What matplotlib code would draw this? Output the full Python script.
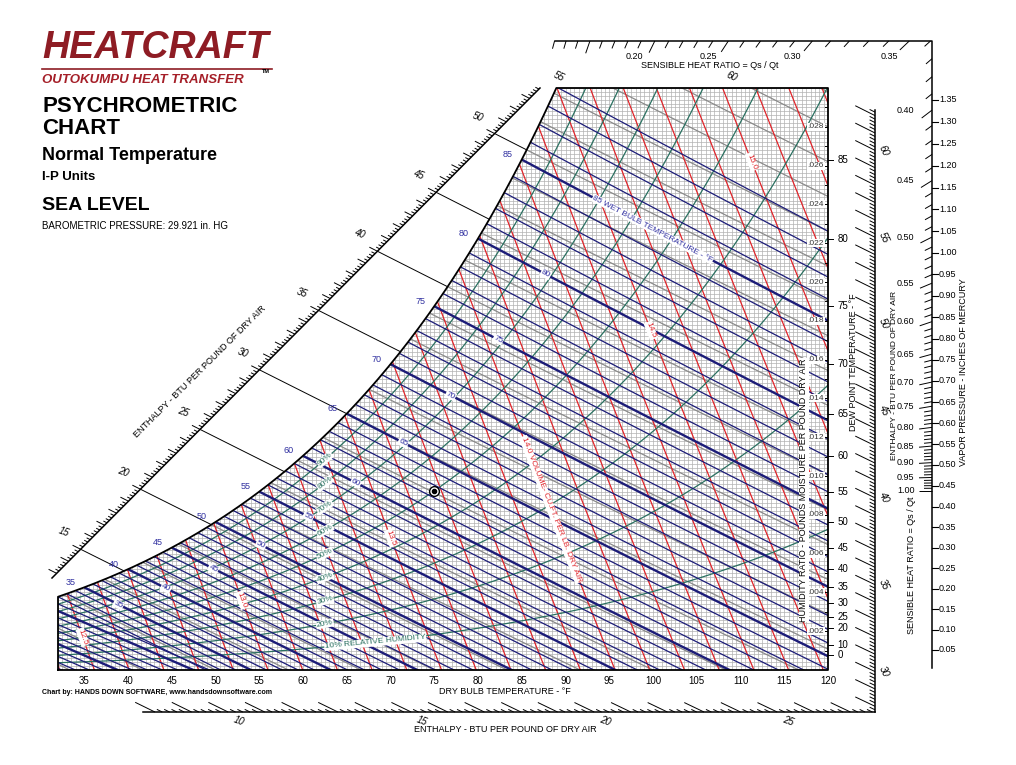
import numpy as np
import matplotlib
matplotlib.use("Agg")
import matplotlib.pyplot as plt
from matplotlib.collections import LineCollection
from matplotlib.patches import Polygon

plt.rcParams['font.family'] = ['Liberation Sans', 'DejaVu Sans']

# ---- chart data ----
P_PSIA = 14.696
P_INHG = 29.921
db_ticks = list(range(35, 125, 5))
wb_labels = list(range(35, 90, 5))
rh_levels = [10, 20, 30, 40, 50, 60, 70, 80, 90]
vol_levels = [12.3, 12.4, 12.5, 12.6, 12.7, 12.8, 12.9, 13.0, 13.1, 13.2, 13.3, 13.4, 13.5,
              13.6, 13.7, 13.8, 13.9, 14.0, 14.1, 14.2, 14.3, 14.4, 14.5, 14.6, 14.7,
              14.8, 14.9, 15.0, 15.1, 15.2, 15.3, 15.4, 15.5]
vol_label_text = {12.5: '12.5', 13.0: '13.0', 13.5: '13.5',
                  14.0: '14.0 VOLUME- CU.FT. PER LB. DRY AIR', 14.5: '14.5', 15.0: '15.0'}
vol_label_w = {12.5: 0.0017, 13.0: 0.0036, 13.5: 0.0068, 14.0: 0.0120, 14.5: 0.0175, 15.0: 0.0262}
w_labels = [0.002, 0.004, 0.006, 0.008, 0.010, 0.012, 0.014, 0.016, 0.018, 0.020,
            0.022, 0.024, 0.026, 0.028]
dew_labels = [0, 10, 20, 25, 30, 35, 40, 45, 50, 55, 60, 65, 70, 75, 80, 85]
enth_diag_labels = [15, 20, 25, 30, 35, 40, 45, 50]
enth_right_labels = [30, 35, 40, 45, 50, 55, 60]
enth_bottom_labels = [10, 15, 20, 25]
enth_top_labels = [55, 60]
shr_top_labels = [0.20, 0.25, 0.30, 0.35]
shr_right_labels = [0.40, 0.45, 0.50, 0.55, 0.60, 0.65, 0.70, 0.75, 0.80, 0.85, 0.90, 0.95, 1.00]
vp_labels = [0.05, 0.10, 0.15, 0.20, 0.25, 0.30, 0.35, 0.40, 0.45, 0.50, 0.55, 0.60, 0.65,
             0.70, 0.75, 0.80, 0.85, 0.90, 0.95, 1.00, 1.05, 1.10, 1.15, 1.20, 1.25, 1.30, 1.35]
ref_T, ref_RH = 75, 50

NAVY = '#1c1c78'
RED = '#e0242a'
GREEN = '#2a7060'
GRID = '#b2b2b2'
BLUE_TXT = '#3030a0'


# ---- psychrometrics ----
def pws(T):
    T = np.asarray(T, float)
    R = T + 459.67
    hi = np.exp(-1.0440397e4 / R - 1.1294650e1 - 2.7022355e-2 * R + 1.2890360e-5 * R**2
                - 2.4780681e-9 * R**3 + 6.5459673 * np.log(R))
    lo = np.exp(-1.0214165e4 / R - 4.8932428 - 5.3765794e-3 * R + 1.9202377e-7 * R**2
                + 3.5575832e-10 * R**3 - 9.0344688e-14 * R**4 + 4.1635019 * np.log(R))
    return np.where(T >= 32, hi, lo)


def w_sat(T):
    p = pws(T)
    return 0.621945 * p / (P_PSIA - p)


def w_rh(T, rh):
    p = rh / 100.0 * pws(T)
    return 0.621945 * p / (P_PSIA - p)


def w_wb(T, twb):
    ws = w_sat(twb)
    if twb >= 32:
        return ((1093 - 0.556 * twb) * ws - 0.240 * (T - twb)) / (1093 + 0.444 * T - twb)
    return ((1220 - 0.04 * twb) * ws - 0.240 * (T - twb)) / (1220 + 0.444 * T - 0.48 * twb)


def w_h(T, h):
    return (h - 0.240 * T) / (1061 + 0.444 * T)


def w_v(T, v):
    return (v * P_PSIA / (0.370486 * (T + 459.67)) - 1) / 1.607858


def bisect(f, a, b, n=60):
    fa = f(a)
    for _ in range(n):
        m = 0.5 * (a + b)
        fm = f(m)
        if np.sign(fm) == np.sign(fa):
            a, fa = m, fm
        else:
            b = m
    return 0.5 * (a + b)


# pixel helpers (layout only)
SX, SY = 8.75, 582 / 0.03


def pd(xp, yp):
    return 32 + (xp - 58) / SX, (670 - yp) / 582 * 0.03


def ang(f, T, dT=0.5):
    dy = (f(T + dT / 2) - f(T - dT / 2)) * SY
    return np.degrees(np.arctan2(dy, dT * SX))


fig = plt.figure(figsize=(10.16, 7.65), dpi=100)
ax = fig.add_axes([58 / 1016, 95 / 765, 770 / 1016, 582 / 765])
ax.set_xlim(32, 120)
ax.set_ylim(0, 0.03)
for s in ax.spines.values():
    s.set_visible(False)
ax.set_yticks([])
ax.set_xticks(db_ticks)
ax.tick_params(axis='x', length=0, labelsize=7, pad=4)

T_top = bisect(lambda t: w_sat(t) - 0.03, 60, 100)
Ts = np.linspace(32, T_top, 200)
boundary = [(32, 0)] + list(zip(Ts, w_sat(Ts))) + [(120, 0.03), (120, 0)]
clip = Polygon(boundary, closed=True, transform=ax.transData)


def add_lines(segs, **kw):
    lc = LineCollection(segs, **kw)
    ax.add_collection(lc)
    lc.set_clip_path(clip)
    return lc


# grid
vsegs = [[(t, 0), (t, 0.03)] for t in np.arange(32, 120.01, 0.5)]
hsegs = [[(32, w), (120, w)] for w in np.arange(0, 0.03001, 0.0002)]
add_lines(vsegs + hsegs, colors=GRID, linewidths=0.5)

TT = np.linspace(20, 125, 300)
# enthalpy lines
add_lines([list(zip(TT, w_h(TT, h))) for h in range(8, 64, 2)], colors='#8a8a8a', linewidths=0.9)
# volume lines
add_lines([list(zip(TT, w_v(TT, v))) for v in vol_levels], colors=RED, linewidths=0.9)
# rh curves
add_lines([list(zip(TT, w_rh(TT, r))) for r in rh_levels], colors=GREEN, linewidths=0.9)
# wet bulb lines
thin, thick = [], []
for twb in range(18, 90):
    T = np.linspace(max(twb, 20), 125, 120)
    seg = list(zip(T, w_wb(T, twb)))
    (thick if twb % 5 == 0 else thin).append(seg)
add_lines(thin, colors=NAVY, linewidths=0.9)
add_lines(thick, colors=NAVY, linewidths=1.7)

# boundary
bx, by = zip(*(boundary + [boundary[0]]))
ax.plot(bx, by, color='k', lw=1.3, clip_on=False)

# volume labels
for v, txt in vol_label_text.items():
    w = vol_label_w[v]
    t = bisect(lambda t: w_v(t, v) - w, 20, 130)
    inv = lambda x: w_v(x, v)
    ax.text(t, w, txt, color=RED, fontsize=6, rotation=ang(inv, t), rotation_mode='anchor',
            ha='left' if v == 14.0 else 'center', va='center',
            bbox=dict(fc='white', ec='none', pad=0.6))

# rh labels
for r in rh_levels:
    t = 62.5
    txt = '10% RELATIVE HUMIDITY' if r == 10 else '%d%%' % r
    ax.text(t, w_rh(t, r), txt, color=GREEN, fontsize=6, rotation=ang(lambda x: w_rh(x, r), t),
            rotation_mode='anchor', ha='left' if r == 10 else 'center', va='center',
            bbox=dict(fc='white', ec='none', pad=0.4))

# wet bulb labels: at saturation and in chart
for twb in wb_labels:
    ax.annotate(str(twb), (twb, w_sat(twb)), xytext=(-14, 5), textcoords='offset pixels',
                color=BLUE_TXT, fontsize=6.5, ha='center', va='center', annotation_clip=False)
    t = twb + 3.9 + (twb - 35) * 0.085
    txt = '85 WET BULB TEMPERATURE - °F' if twb == 85 else str(twb)
    ax.text(t, w_wb(t, twb), txt, color=BLUE_TXT, fontsize=6, rotation=ang(lambda x: w_wb(x, twb), t),
            rotation_mode='anchor', ha='left' if twb == 85 else 'center', va='center',
            bbox=dict(fc='white', ec='none', pad=0.4))

# humidity ratio labels and right ticks
for w in w_labels:
    ax.text(118.6, w, ('%.3f' % w)[1:], fontsize=6, ha='center', va='center', color='#333333',
            bbox=dict(fc='white', ec='none', pad=0.4))
for w in np.arange(0.001, 0.0300, 0.001):
    ax.plot([119.7, 120], [w, w], color='k', lw=0.7)
for td in dew_labels:
    w = w_sat(td)
    ax.plot([120, 120.6], [w, w], color='k', lw=0.7, clip_on=False)
    ax.text(121.1, w, str(td), fontsize=7, ha='left', va='center')

# ---- enthalpy scales ----
def tick(Tstart, h, L):
    T2 = Tstart - L / 9.76
    return [(Tstart, w_h(Tstart, h)), (T2, w_h(T2, h))]


ext = dict(colors='k', linewidths=0.7, clip_on=False)
# diagonal scale
Ta, Wa = pd(52, 578)
Tb, Wb = pd(540, 88)
ax.plot([Ta, Tb], [Wa, Wb], color='k', lw=1.1, clip_on=False)
b = (Wb - Wa) / (Tb - Ta)
a = Wa - b * Ta
dsegs = []
for h in np.arange(13.0, 53.81, 0.2):
    h = round(h, 1)
    qa, qb, qc = 0.444 * b, 1061 * b + 0.444 * a + 0.24, 1061 * a - h
    tsc = (-qb + np.sqrt(qb * qb - 4 * qa * qc)) / (2 * qa)
    major = abs(h - round(h)) < 1e-6
    dsegs.append(tick(tsc, h, 9 if major else 4))
    if major and int(round(h)) in enth_diag_labels:
        tsat = bisect(lambda t: w_h(t, h) - w_sat(t), 20, 100)
        TT2 = np.linspace(tsc, tsat, 30)
        dsegs.append(list(zip(TT2, w_h(TT2, h))))
        ax.annotate(str(int(round(h))), (tsc, w_h(tsc, h)), xytext=(-17, 17),
                    textcoords='offset pixels', fontsize=7, style='italic',
                    ha='center', va='center', rotation=-20, annotation_clip=False)
ax.add_collection(LineCollection(dsegs, **ext))

# right scale
TR = pd(875, 0)[0]
WR_top, WR_bot = pd(0, 110)[1], pd(0, 712)[1]
ax.plot([TR, TR], [WR_top, WR_bot], color='k', lw=1.1, clip_on=False)
rsegs = []
for h in np.arange(27.8, 62.21, 0.2):
    h = round(h, 1)
    major = abs(h - round(h)) < 1e-6
    rsegs.append(tick(TR, h, 22 if major else 6))
    if major and int(round(h)) in enth_right_labels:
        ax.text(TR + 1.0, w_h(TR, h), str(int(round(h))), fontsize=7, style='italic',
                ha='center', va='center', rotation=-65)
ax.add_collection(LineCollection(rsegs, **ext))

# bottom scale
TB0 = pd(143, 0)[0]
ax.plot([TB0, TR], [WR_bot, WR_bot], color='k', lw=1.1, clip_on=False)
bsegs = []
for h in np.arange(8.0, 27.61, 0.2):
    h = round(h, 1)
    tb = (h - 1061 * WR_bot) / (0.24 + 0.444 * WR_bot)
    major = abs(h - round(h)) < 1e-6
    bsegs.append(tick(tb, h, 22 if major else 6))
    if major and int(round(h)) in enth_bottom_labels:
        ax.text(tb + 1.2, WR_bot - 0.00045, str(int(round(h))), fontsize=7, style='italic',
                ha='center', va='center', rotation=-20)
ax.add_collection(LineCollection(bsegs, **ext))

for h in enth_top_labels:
    tt = (h - 1061 * 0.03) / (0.24 + 0.444 * 0.03)
    ax.text(tt - 2.2, 0.0306, str(h), fontsize=7, style='italic', ha='center', va='center',
            rotation=-25)

# ---- sensible heat ratio protractor ----
T0, W0 = ref_T, float(w_rh(ref_T, ref_RH))
ax.plot([T0], [W0], 'o', ms=7, mfc='white', mec='k', mew=1.0)
ax.plot([T0], [W0], 'o', ms=3, color='k')
TF = pd(932, 0)[0]
WF_top = pd(0, 41)[1]
TF_left = pd(555, 0)[0]
ax.plot([TF_left, TF, TF], [WF_top, WF_top, pd(0, 668)[1]], color='k', lw=1.1, clip_on=False)
ssegs = []
for shr in np.arange(0.12, 1.0001, 0.01):
    shr = round(shr, 2)
    s = 0.244 * (1 - shr) / (1061 * shr)
    if shr < 1 and W0 + s * (TF - T0) > WF_top:
        T1 = T0 + (WF_top - W0) / s
        W1 = WF_top
        on_top = True
    else:
        T1, W1 = TF, W0 + s * (TF - T0)
        on_top = False
    major = abs(shr * 20 - round(shr * 20)) < 1e-6
    L = (13 if major else 8) / np.hypot(SX, s * SY)
    ssegs.append([(T1, W1), (T1 - L, W1 - s * L)])
    if on_top and shr in shr_top_labels:
        ax.text(T1 - 2.3, WF_top - 0.0008, '%.2f' % shr, fontsize=6.5, ha='center', va='center')
    if not on_top and shr in shr_right_labels:
        ax.text(TF - 2.0, W1, '%.2f' % shr, fontsize=6.5, ha='right', va='center')
ax.add_collection(LineCollection(ssegs, **ext))

# vapor pressure scale
for p in vp_labels:
    w = 0.621945 * p / (P_INHG - p)
    ax.plot([TF, TF + 0.7], [w, w], color='k', lw=0.8, clip_on=False)
    ax.text(TF + 0.8, w, '%.2f' % p, fontsize=6.5, ha='left', va='center')

# ---- texts ----
def ft(x, y, s, **kw):
    fig.text(x / 1016, 1 - y / 765, s, **kw)


ft(42, 48, 'HEATCRAFT', fontsize=27, weight='bold', style='italic', color='#8e1c24', va='center')
ft(42, 80, 'OUTOKUMPU HEAT TRANSFER', fontsize=9.5, weight='bold', style='italic', color='#a51f28',
   va='center')
fig.add_artist(plt.Line2D([42 / 1016, 272 / 1016], [1 - 69 / 765, 1 - 69 / 765], color='#8e1c24', lw=1.2))
ft(262, 73, 'TM', fontsize=4, weight='bold')
ft(42, 106, 'PSYCHROMETRIC', fontsize=16, weight='bold', va='center')
ft(42, 128, 'CHART', fontsize=16, weight='bold', va='center')
ft(42, 155, 'Normal Temperature', fontsize=13, weight='bold', va='center')
ft(42, 177, 'I-P Units', fontsize=9.5, weight='bold', va='center')
ft(42, 206, 'SEA LEVEL', fontsize=14, weight='bold', va='center')
ft(42, 226, 'BAROMETRIC PRESSURE: 29.921 in. HG', fontsize=7, va='center')
ft(42, 693, 'Chart by: HANDS DOWN SOFTWARE, www.handsdownsoftware.com', fontsize=5, weight='bold',
   va='center')
ft(505, 692, 'DRY BULB TEMPERATURE - °F', fontsize=6.5, ha='center', va='center')
ft(505, 730, 'ENTHALPY - BTU PER POUND OF DRY AIR', fontsize=6.5, ha='center', va='center')
ft(710, 66, 'SENSIBLE HEAT RATIO = Qs / Qt', fontsize=6.5, ha='center', va='center')
ft(200, 372, 'ENTHALPY - BTU PER POUND OF DRY AIR', fontsize=6.5, ha='center', va='center', rotation=45)
ft(853, 362, 'DEW POINT TEMPERATURE - °F', fontsize=6.5, ha='center', va='center', rotation=90)
ft(894, 375, 'ENTHALPY - BTU PER POUND OF DRY AIR', fontsize=6, ha='center', va='center', rotation=90)
ft(912, 565, 'SENSIBLE HEAT RATIO = Qs / Qt', fontsize=6.5, ha='center', va='center', rotation=90)
ft(963, 372, 'VAPOR PRESSURE - INCHES OF MERCURY', fontsize=6.5, ha='center', va='center', rotation=90)
ft(804, 490, 'HUMIDITY RATIO - POUNDS MOISTURE PER POUND DRY AIR', fontsize=6.5, ha='center',
   va='center', rotation=90, bbox=dict(fc='white', ec='none', pad=0.3))

fig.savefig('out.png', dpi=100)
